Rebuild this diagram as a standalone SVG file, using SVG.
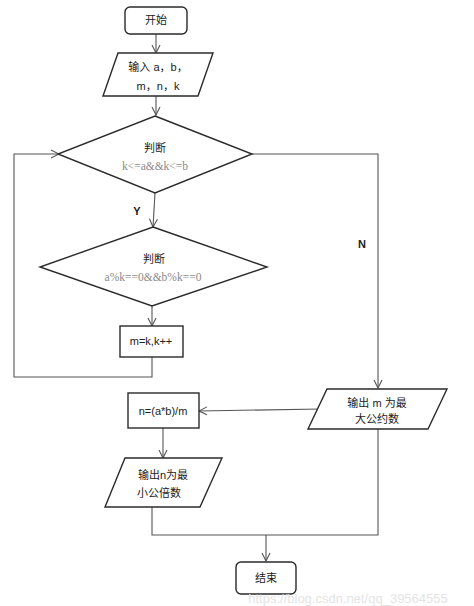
<svg xmlns="http://www.w3.org/2000/svg" width="474" height="606" viewBox="0 0 474 606">
<style>
.shape{fill:#fff;stroke:#2a2a2a;stroke-width:1.4}
.conn{fill:none;stroke:#555;stroke-width:1.1}
.t{font-family:"Liberation Sans","Noto Sans CJK SC",sans-serif;font-size:11px;fill:#222;text-anchor:middle}
.g{font-family:"Liberation Serif","Noto Sans CJK SC",serif;font-size:11.5px;fill:#8a8a8a;text-anchor:middle}
.wm{font-family:"Liberation Sans",sans-serif;font-size:13px;fill:#e4e4e4;text-anchor:middle}
</style>
<defs>
<marker id="arr" markerWidth="10" markerHeight="10" refX="9" refY="5" orient="auto" markerUnits="userSpaceOnUse">
<path d="M1,1 L9,5 L1,9" fill="none" stroke="#555" stroke-width="1.1"/>
</marker>
</defs>
<rect width="474" height="606" fill="#fff"/>
<g id="connectors">
<path class="conn" d="M156,34 V53" marker-end="url(#arr)"/>
<path class="conn" d="M156,96 V115" marker-end="url(#arr)"/>
<path class="conn" d="M155,193 L153,227" marker-end="url(#arr)"/>
<path class="conn" d="M152,306 V326" marker-end="url(#arr)"/>
<path class="conn" d="M152,357 V377 H14 V154 H59" marker-end="url(#arr)"/>
<path class="conn" d="M252,154 H378 V388" marker-end="url(#arr)"/>
<path class="conn" d="M322,409 L199,411" marker-end="url(#arr)"/>
<path class="conn" d="M163,428 V458" marker-end="url(#arr)"/>
<path class="conn" d="M152,507 V535 H378 V429"/>
<path class="conn" d="M266,535 V561" marker-end="url(#arr)"/>
<text class="t" x="137" y="215" font-weight="bold" font-size="10">Y</text>
<text class="t" x="362" y="248" font-weight="bold" font-size="10">N</text>
</g>
<g id="start">
<rect class="shape" x="125" y="7" width="62" height="27" rx="5"/>
<text class="t" x="156" y="24">开始</text>
</g>
<g id="input">
<polygon class="shape" points="118,53 213,53 198,96 103,96"/>
<text class="t" x="158" y="71">输入 a，b，</text>
<text class="t" x="158" y="90">m，n，k</text>
</g>
<g id="cond1">
<polygon class="shape" points="155,116 252,154 155,193 58,154"/>
<text class="t" x="155" y="152">判断</text>
<text class="g" x="155" y="170">k&lt;=a&amp;&amp;k&lt;=b</text>
</g>
<g id="cond2">
<polygon class="shape" points="153,227 267,267 152,306 40,267"/>
<text class="t" x="154" y="263">判断</text>
<text class="g" x="153" y="281">a%k==0&amp;&amp;b%k==0</text>
</g>
<g id="update">
<rect class="shape" x="120" y="326" width="63" height="31"/>
<text class="t" x="151" y="345">m=k,k++</text>
</g>
<g id="outm">
<polygon class="shape" points="327,389 447,389 428,429 308,429"/>
<text class="t" x="377" y="407">输出 m 为最</text>
<text class="t" x="377" y="423">大公约数</text>
</g>
<g id="calcn">
<rect class="shape" x="128" y="393" width="71" height="35"/>
<text class="t" x="163" y="415">n=(a*b)/m</text>
</g>
<g id="outn">
<polygon class="shape" points="125,458 222,458 200,507 105,507"/>
<text class="t" x="163" y="479">输出n为最</text>
<text class="t" x="159" y="497">小公倍数</text>
</g>
<g id="end">
<rect class="shape" x="236" y="562" width="60" height="32" rx="5"/>
<text class="t" x="266" y="582">结束</text>
</g>
<text class="wm" x="348" y="603">https://blog.csdn.net/qq_39564555</text>
</svg>
